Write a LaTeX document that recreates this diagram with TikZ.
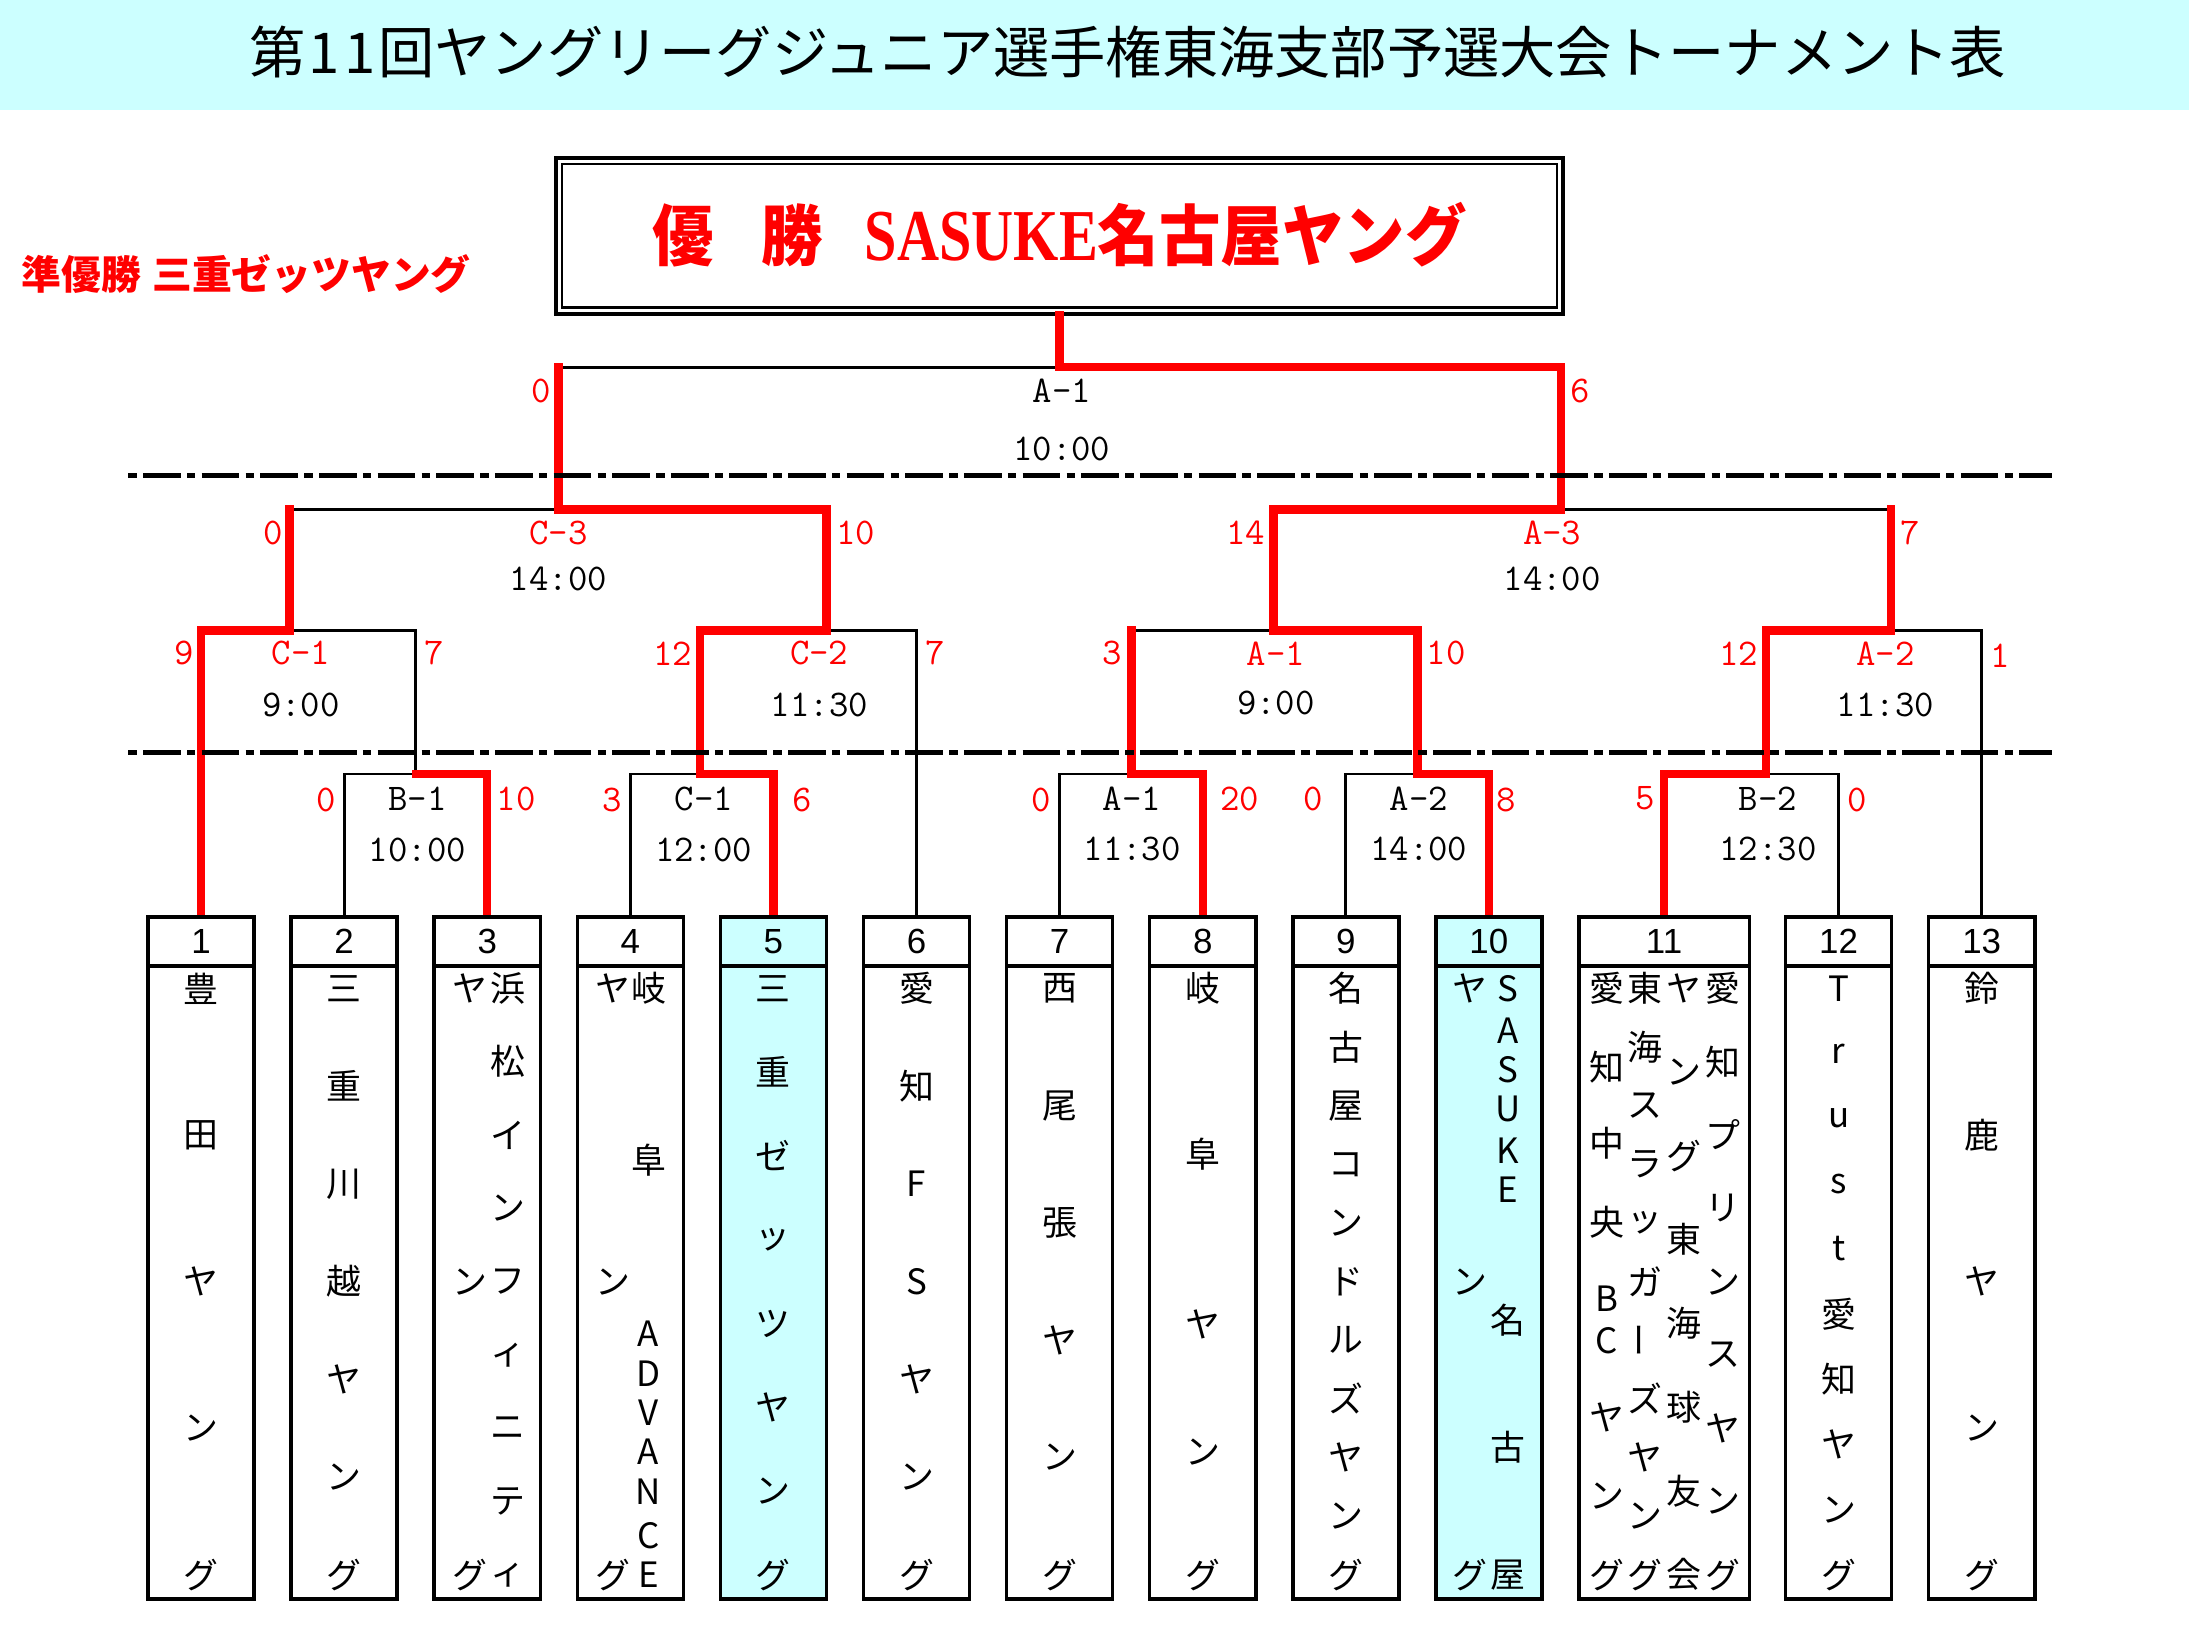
\documentclass[tikz,border=0pt]{standalone}
\usepackage{fontspec}
\usepackage{graphicx}
\setmainfont{Liberation Sans}
\newfontfamily\jpfont{Noto Sans CJK JP}
\newfontfamily\romfont{Liberation Serif}
\usetikzlibrary{positioning}
\definecolor{hl}{HTML}{CCFFFF}

\newcommand\tcol[4]{\foreach \ch [count=\k] in {#4} \node[tchar] (#1-\k) at (#2,{708+(\k-1)*420/(#3-1)}) {\ch};}
\newcommand\tcolat[3]{\foreach \ch/\yy [count=\k] in {#3} \node[tchar] (#1-\k) at (#2,\yy) {\ch};}

\begin{document}
\begin{tikzpicture}[x=1pt,y=-1pt,
  lose/.style={line width=2pt},
  win/.style={red, line width=6pt, line cap=rect},
  teambox/.style={draw, line width=2.5pt, minimum height=488.5pt, inner sep=0pt},
  numbox/.style={draw, line width=2.5pt, minimum height=35pt, inner sep=0pt, font=\fontsize{25}{25}\selectfont},
  tchar/.style={inner sep=0pt, font=\jpfont\fontsize{25}{25}\selectfont},
  lbl/.style={inner sep=0pt, font=\ttfamily\fontsize{27}{27}\selectfont},
  score/.style={lbl, text=red},
  champbox/.style={draw, line width=2.5pt, minimum width=721.5pt, minimum height=111.5pt, inner sep=0pt},
  dashline/.style={line width=3.8pt, dash pattern=on 6pt off 4.5pt on 27pt off 4.5pt}]
\useasboundingbox (0,0) rectangle (1568,1166);

\fill[hl] (0,0) rectangle (1568,79);
\node[inner sep=0pt, font=\jpfont\fontsize{40.3}{40.3}\selectfont] (title) at (808,37) {第\hspace{2pt}1\hspace{3pt}1\hspace{2pt}回ヤングリーグジュニア選手権東海支部予選大会トーナメント表};

\node[champbox] (champ) at (759,169) {};
\draw[line width=1.5pt] ([shift={(5.75,5.75)}]champ.north west) rectangle ([shift={(-5.75,-5.75)}]champ.south east);
\node[inner sep=0pt, text=red, font=\jpfont\bfseries\fontsize{44}{44}\selectfont] (winner) at (759,168.3) {\scalebox{1}[1.08]{優\hspace{34pt}勝\hspace{30pt}{\romfont\bfseries\fontsize{48.5}{48.5}\selectfont\scalebox{0.86}[1]{SASUKE}}名古屋ヤング}};
\node[inner sep=0pt, text=red, anchor=west, font=\jpfont\bfseries\fontsize{28.5}{28.5}\selectfont] (runner) at (15.5,196.4) {準優勝\hspace{8pt}三重ゼッツヤング};

\foreach \i/\x/\w/\f in {1/144/76/white,2/246.5/76/white,3/349/76/white,4/451.5/76/white,5/554/76/hl,6/656.5/76/white,7/759/76/white,8/861.5/76/white,9/964/76/white,10/1066.5/76/hl,11/1192/122/white,12/1317/76/white,13/1419.5/76/white}{
  \node[teambox, fill=\f, minimum width=\w] (tb\i) at (\x,901.25) {};
  \node[numbox, fill=\f, minimum width=\w, anchor=north] (n\i) at (tb\i.north) {\i};
}

\tcol{t1}{144}{5}{豊,田,ヤ,ン,グ}
\tcol{t2}{246.5}{7}{三,重,川,越,ヤ,ン,グ}
\tcol{t3a}{364}{9}{浜,松,イ,ン,フ,ィ,ニ,テ,ィ}
\tcol{t3b}{336.6}{3}{ヤ,ン,グ}
\tcolat{t4a}{464.5}{岐/708,阜/831,A/955.5,D/983.8,V/1012,A/1040,N/1068.5,C/1100,E/1128}
\tcol{t4b}{439}{3}{ヤ,ン,グ}
\tcol{t5}{554}{8}{三,重,ゼ,ッ,ツ,ヤ,ン,グ}
\tcol{t6}{656.5}{7}{愛,知,F,S,ヤ,ン,グ}
\tcol{t7}{759}{6}{西,尾,張,ヤ,ン,グ}
\tcolat{t8}{861.5}{岐/708,阜/827,ヤ/949,ン/1040,グ/1128}
\tcol{t9}{964}{11}{名,古,屋,コ,ン,ド,ル,ズ,ヤ,ン,グ}
\tcolat{t10a}{1080}{S/708,A/738,S/766,U/794.3,K/824.2,E/852.4,名/945.5,古/1037,屋/1128}
\tcol{t10b}{1052.6}{3}{ヤ,ン,グ}
\tcolat{t11a}{1151}{愛/708,知/764.4,中/819.2,央/875.7,B/930.6,C/960.5,ヤ/1015,ン/1071.6,グ/1128}
\tcol{t11b}{1178.6}{11}{東,海,ス,ラ,ッ,ガ,{\rotatebox{90}{ー}},ズ,ヤ,ン,グ}
\tcol{t11c}{1206}{8}{ヤ,ン,グ,東,海,球,友,会}
\tcol{t11d}{1234.5}{9}{愛,知,プ,リ,ン,ス,ヤ,ン,グ}
\tcol{t12}{1317}{10}{T,r,u,s,t,愛,知,ヤ,ン,グ}
\tcol{t13}{1419.5}{5}{鈴,鹿,ヤ,ン,グ}

\coordinate (B1) at (297.8,554.4);
\coordinate (Cb) at (501.6,554.4);
\coordinate (Ab1) at (810.4,554.4);
\coordinate (Ab2) at (1015.3,554.4);
\coordinate (B2) at (1265.2,554.4);
\coordinate (Ca1) at (207.3,451.6);
\coordinate (Ca2) at (592,451.6);
\coordinate (Aa1) at (912.3,451.6);
\coordinate (Aa2) at (1354.6,451.6);
\coordinate (C3) at (400,365);
\coordinate (A3) at (1118,365);
\coordinate (F) at (759,263);

\foreach \a/\b in {tb2.north/B1,tb4.north/Cb,tb6.north/Ca2,tb7.north/Ab1,tb9.north/Ab2,tb12.north/B2,tb13.north/Aa2,B1/Ca1}
  \draw[lose] (\a) |- (\b);
\foreach \a/\b in {Ab1/Aa1,Ca1/C3,Aa2/A3,C3/F}
  \draw[lose] (\a |- \b) -- (\b);
\foreach \a/\b in {tb1.north/Ca1,tb3.north/B1,tb5.north/Cb,tb8.north/Ab1,tb10.north/Ab2,tb11.north/B2}
  \draw[win, shorten <=3pt] (\a) |- (\b);
\foreach \a/\b in {Cb/Ca2,Ab2/Aa1,B2/Aa2,Ca2/C3,Aa1/A3,A3/F}
  \draw[win] (\a) |- (\b);
\foreach \a/\b in {Ab1/Aa1,Ca1/C3,Aa2/A3,C3/F}
  \draw[win] (\a) -- (\a |- \b);
\draw[win] (F) -- (champ.south);

\foreach \n/\x/\y/\t in {mF/760.5/280/A-1,mB1/299/572/B-1,mCb/504.2/572/C-1,mAb1/810.8/572/A-1,mAb2/1016.3/572/A-2,mB2/1266.5/572/B-2}
  \node[lbl] (\n) at (\x,\y) {\t};
\foreach \n/\x/\y/\t in {mC3/400/381.7/C-3,mA3/1111.8/381.7/A-3,mCa1/215.5/468/C-1,mCa2/586.8/468/C-2,mAa1/913.8/468/A-1,mAa2/1350.5/468/A-2}
  \node[lbl, text=red] (\n) at (\x,\y) {\t};
\foreach \n/\x/\y/\t in {hF/760.5/321.9/10:00,hC3/400/414.6/14:00,hA3/1111.8/414.6/14:00,hCa1/215.5/505/9:00,hCa2/587/505/11:30,hAa1/914/503.7/9:00,hAa2/1350.5/505/11:30,hB1/299/609.2/10:00,hCb/504/609.2/12:00,hAb1/811/607.9/11:30,hAb2/1016.3/607.9/14:00,hB2/1266.5/607.9/12:30}
  \node[lbl] (\n) at (\x,\y) {\t};
\foreach \x/\y/\t [count=\k] in {387.4/280/0,1131.9/280/6,195.8/381.7/0,612.8/381.7/10,892.2/381.7/14,1368.6/381.7/7,132/468/9,310.9/468/7,482/468/12,669.9/468/7,796.7/468/3,1036/468/10,1245.5/468/12,1432.4/470/1,234/573/0,369.8/572/10,438.8/573/3,574.5/573/6,745.5/573/0,888/572/20,940.5/572/0,1079.2/573/8,1178.7/572/5,1330.4/573/0}
  \node[score] (s\k) at (\x,\y) {\t};

\draw[dashline] (92,340.6) -- (1470,340.6);
\draw[dashline] (92,538.8) -- (1470,538.8);
\end{tikzpicture}
\end{document}
